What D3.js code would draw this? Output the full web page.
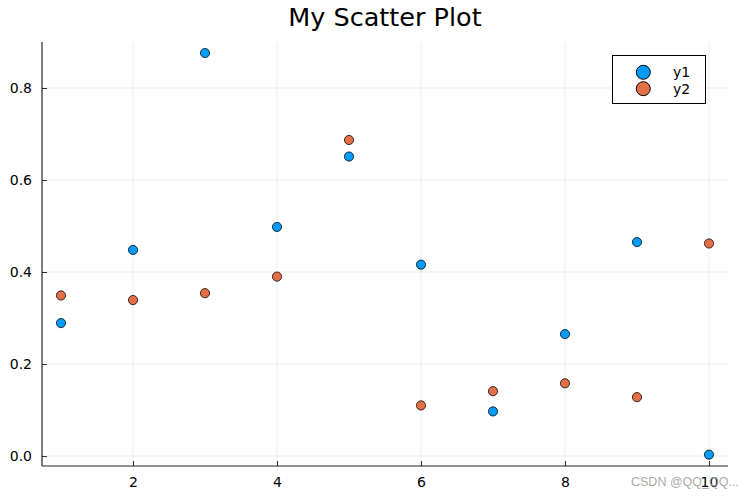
<!DOCTYPE html>
<html><head><meta charset="utf-8">
<script src="https://cdn.jsdelivr.net/npm/d3@7"></script>
<style>body{margin:0;background:#fff}svg{display:block}</style>
</head><body>
<svg id="c" width="751" height="497"></svg>
<script>
const xs = [1,2,3,4,5,6,7,8,9,10];
const y1 = [0.289,0.448,0.876,0.498,0.651,0.416,0.097,0.265,0.465,0.003];
const y2 = [0.349,0.339,0.354,0.390,0.687,0.110,0.141,0.158,0.128,0.462];
const seriesNames = ["y1","y2"];
const seriesColors = ["#009AFA","#E36F47"];
const xTicks = [2,4,6,8,10];
const yTicks = [0,0.2,0.4,0.6,0.8];

const svg = d3.select("#c");
const L=42, R=728, T=42, B=466;
const x = d3.scaleLinear().domain([0.736,10.264]).range([L,R]);
const y = d3.scaleLinear().domain([-0.0217,0.9]).range([B,T]);
const font = "DejaVu Sans, sans-serif";

// grid
svg.append("g").selectAll("line").data(xTicks).join("line")
  .attr("x1",d=>x(d)).attr("x2",d=>x(d)).attr("y1",T).attr("y2",B)
  .attr("stroke","#000").attr("stroke-opacity",0.1).attr("stroke-width",0.8);
svg.append("g").selectAll("line").data(yTicks).join("line")
  .attr("y1",d=>y(d)).attr("y2",d=>y(d)).attr("x1",L).attr("x2",R)
  .attr("stroke","#000").attr("stroke-opacity",0.1).attr("stroke-width",0.8);

// axes
const xAxis = d3.axisBottom(x).tickValues(xTicks).tickFormat(d3.format("d")).tickSizeInner(-5).tickSizeOuter(0).tickPadding(11);
const yAxis = d3.axisLeft(y).tickValues(yTicks).tickFormat(d3.format(".1f")).tickSizeInner(-5).tickSizeOuter(0).tickPadding(10);
const gx = svg.append("g").attr("transform",`translate(0,${B})`).call(xAxis);
const gy = svg.append("g").attr("transform",`translate(${L},0)`).call(yAxis);
[gx,gy].forEach(g=>{
  g.select(".domain").attr("stroke","#000").attr("stroke-width",1.2).attr("stroke-opacity",0.85);
  g.selectAll(".tick line").attr("stroke","#000").attr("stroke-width",1).attr("stroke-opacity",0.8);
  g.selectAll(".tick text").attr("font-family",font).attr("font-size",14).attr("fill","#000");
});
gx.select(".domain").attr("d",`M${L},0H${R}`);
gy.select(".domain").attr("d",`M0,${B}V${T}`);

// points
const data = [y1,y2];
data.forEach((ser,i)=>{
  svg.append("g").selectAll("circle").data(xs.map((v,j)=>[v,ser[j]])).join("circle")
    .attr("cx",d=>x(d[0])).attr("cy",d=>y(d[1])).attr("r",4.6)
    .attr("fill",seriesColors[i]).attr("stroke","#000").attr("stroke-width",0.9).attr("stroke-opacity",0.85);
});

// title
svg.append("text").attr("x",(L+R)/2).attr("y",25.5).attr("text-anchor","middle")
  .attr("font-family",font).attr("font-size",25.5).attr("fill","#000").text("My Scatter Plot");

// legend
const lg = svg.append("g");
lg.append("rect").attr("x",612.5).attr("y",55.5).attr("width",93).attr("height",48)
  .attr("fill","#fff").attr("stroke","#000").attr("stroke-width",1);
seriesNames.forEach((n,i)=>{
  const cy = 72.3 + i*16.4;
  lg.append("circle").attr("cx",643.3).attr("cy",cy).attr("r",7)
    .attr("fill",seriesColors[i]).attr("stroke","#000").attr("stroke-width",1);
  lg.append("text").attr("x",673).attr("y",cy+5).attr("font-family",font).attr("font-size",14)
    .attr("fill","#000").text(n);
});

// watermark
svg.append("text").attr("x",631).attr("y",486).attr("font-family","Liberation Sans, Arial, sans-serif")
  .attr("font-size",12.5).attr("fill","#999").attr("fill-opacity",0.85).text("CSDN @QQ_QQ...");
</script>
</body></html>
